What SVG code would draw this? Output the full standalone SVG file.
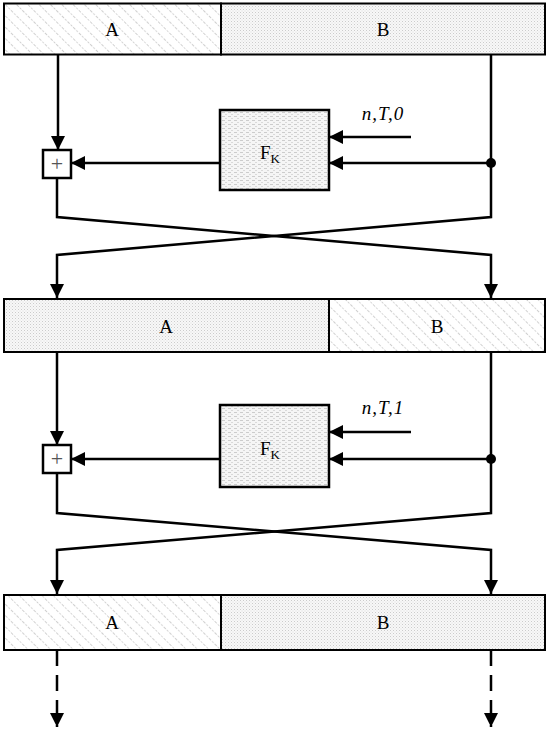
<svg xmlns="http://www.w3.org/2000/svg" width="550" height="736" viewBox="0 0 550 736">
<defs>
<pattern id="hatch" width="8" height="8" patternUnits="userSpaceOnUse" patternTransform="rotate(-45)">
<rect width="8" height="8" fill="#ffffff"/>
<line x1="0" y1="0" x2="0" y2="8" stroke="#bdbdbd" stroke-width="1.4" stroke-dasharray="2,1.5"/>
</pattern>
<pattern id="dots" width="3" height="3" patternUnits="userSpaceOnUse">
<rect width="3" height="3" fill="#f8f8f8"/>
<rect x="0" y="0" width="1" height="1" fill="#cccccc"/>
<rect x="1.5" y="1.5" width="1" height="1" fill="#dddddd"/>
</pattern>
<pattern id="fdots" width="6" height="4" patternUnits="userSpaceOnUse">
<rect width="6" height="4" fill="#f5f5f5"/>
<rect x="0" y="0" width="3" height="1" fill="#cccccc"/>
<rect x="3" y="2" width="2" height="1" fill="#d9d9d9"/>
</pattern>
<marker id="ah" markerUnits="userSpaceOnUse" markerWidth="14" markerHeight="14" refX="14" refY="7" orient="auto" viewBox="0 0 14 14">
<path d="M0,0 L14,7 L0,14 z" fill="#000"/>
</marker>
</defs>
<style>
.bar{stroke:#000;stroke-width:2}
.box{stroke:#000;stroke-width:2.5}
.lbl{font-family:"Liberation Serif",serif;font-size:19px;fill:#000;text-anchor:middle}
.in{font-family:"Liberation Serif",serif;font-size:19px;font-style:italic;fill:#000;text-anchor:middle;letter-spacing:1px}
.w{fill:none;stroke:#000;stroke-width:2.5}
.d{fill:none;stroke:#000;stroke-width:2.5;stroke-dasharray:16,9}
.pl{font-family:"Liberation Serif",serif;font-size:22px;fill:#555;text-anchor:middle}
</style>

<g id="bar1">
<rect class="bar" x="4" y="3.5" width="217" height="51" fill="url(#hatch)"/>
<rect class="bar" x="221" y="3.5" width="324" height="51" fill="url(#dots)"/>
<text class="lbl" x="112" y="36">A</text>
<text class="lbl" x="383" y="36">B</text>
</g>

<g id="f1">
<rect class="box" x="220" y="110" width="109" height="80" fill="url(#fdots)"/>
<text class="lbl" x="270" y="159">F<tspan font-size="13" dy="4">K</tspan></text>
</g>
<g id="xor1">
<rect class="box" x="43" y="150" width="28" height="28" fill="#fff"/>
<text class="pl" x="57" y="171">+</text>
</g>
<g id="in1">
<text class="in" x="383" y="120">n,T,0</text>
</g>

<g id="bar2">
<rect class="bar" x="4" y="299" width="325" height="53" fill="url(#dots)"/>
<rect class="bar" x="329" y="299" width="216" height="53" fill="url(#hatch)"/>
<text class="lbl" x="166" y="333">A</text>
<text class="lbl" x="437" y="333">B</text>
</g>

<g id="f2">
<rect class="box" x="220" y="405" width="109" height="82" fill="url(#fdots)"/>
<text class="lbl" x="270" y="455">F<tspan font-size="13" dy="4">K</tspan></text>
</g>
<g id="xor2">
<rect class="box" x="43" y="445" width="28" height="28" fill="#fff"/>
<text class="pl" x="57" y="466">+</text>
</g>
<g id="in2">
<text class="in" x="383" y="414">n,T,1</text>
</g>

<g id="bar3">
<rect class="bar" x="4" y="595" width="217" height="55" fill="url(#hatch)"/>
<rect class="bar" x="221" y="595" width="324" height="55" fill="url(#dots)"/>
<text class="lbl" x="112" y="629">A</text>
<text class="lbl" x="383" y="629">B</text>
</g>

<g id="connectors">
<path class="w" d="M58,55 V150" marker-end="url(#ah)"/>
<path class="w" d="M220,163 H71" marker-end="url(#ah)"/>
<path class="w" d="M491,163 H329" marker-end="url(#ah)"/>
<path class="w" d="M411,137 H329" marker-end="url(#ah)"/>
<circle cx="491" cy="163" r="5" fill="#000"/>
<path class="w" d="M57,178 V217 L491,255 V298" marker-end="url(#ah)"/>
<path class="w" d="M491,55 V217 L57,255 V298" marker-end="url(#ah)"/>

<path class="w" d="M57,352 V445" marker-end="url(#ah)"/>
<path class="w" d="M220,459 H71" marker-end="url(#ah)"/>
<path class="w" d="M491,459 H329" marker-end="url(#ah)"/>
<path class="w" d="M411,432 H329" marker-end="url(#ah)"/>
<circle cx="491" cy="459" r="5" fill="#000"/>
<path class="w" d="M57,473 V513 L491,550 V594" marker-end="url(#ah)"/>
<path class="w" d="M491,352 V513 L57,550 V594" marker-end="url(#ah)"/>

<path class="d" d="M57,650 V727" marker-end="url(#ah)"/>
<path class="d" d="M491,650 V727" marker-end="url(#ah)"/>
</g>
</svg>
